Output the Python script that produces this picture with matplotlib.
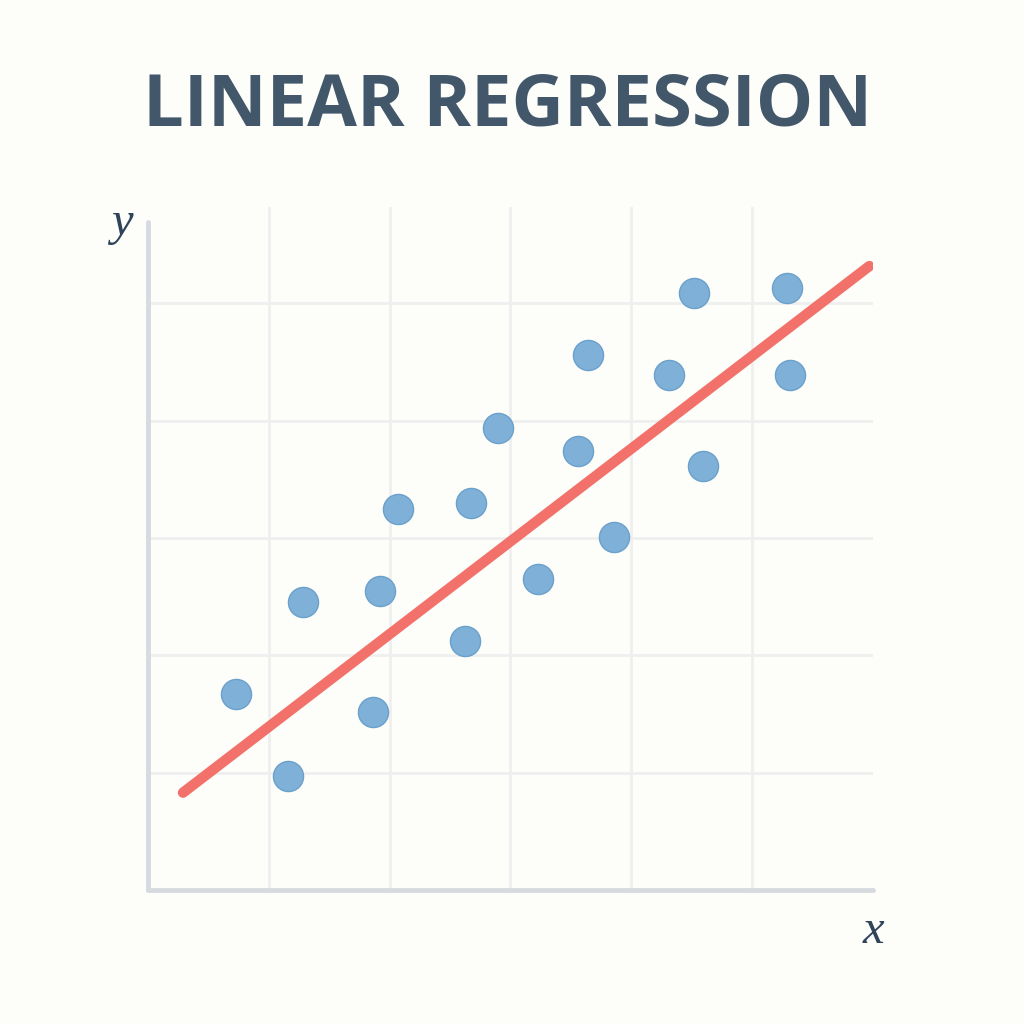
import numpy as np
import matplotlib
matplotlib.use("Agg")
import matplotlib.pyplot as plt

# Точки
x_pts = [0.73, 1.16, 1.28, 1.86, 1.92, 2.07, 2.62, 2.67, 2.90,
         3.23, 3.56, 3.64, 3.86, 4.31, 4.52, 4.59, 5.29, 5.31]
y_pts = [1.67, 0.97, 2.45, 1.52, 2.55, 3.25, 2.12, 3.30, 3.94,
         2.65, 3.74, 4.56, 3.01, 4.39, 5.09, 3.61, 5.13, 4.39]

# Линия регрессии
line_x = [0.29, 5.97]
intercept = 0.60
slope = 0.79

bg = "#fdfdfa"
fig = plt.figure(figsize=(10.24, 10.24), dpi=100, facecolor=bg)
ax = fig.add_axes([0.1445, 0.1309, 0.708, 0.667], facecolor=bg)

ax.set_xlim(0, 6)
ax.set_ylim(0, 5.82)
ax.set_xticks([1, 2, 3, 4, 5])
ax.set_yticks([1, 2, 3, 4, 5])
ax.tick_params(length=0, labelbottom=False, labelleft=False)
ax.grid(True, color="#efefef", linewidth=2)
ax.set_axisbelow(True)

for s in ["top", "right"]:
    ax.spines[s].set_visible(False)
for s in ["left", "bottom"]:
    ax.spines[s].set_color("#d6dbe0")
    ax.spines[s].set_linewidth(3.5)
    ax.spines[s].set_capstyle("round")
ax.spines["left"].set_bounds(0, 5.69)

lx = np.array(line_x)
ax.plot(lx, intercept + slope * lx, color="#f2726b", linewidth=7.5,
        solid_capstyle="round", zorder=2)
ax.scatter(x_pts, y_pts, s=470, color="#7fb1d8", edgecolors="#6aa0cc",
           linewidths=1, zorder=3)

fig.text(0.4956, 1 - 126 / 1024, "LINEAR REGRESSION", ha="center", va="baseline",
         fontsize=52, fontweight="bold", family="Open Sans", color="#43576a")
fig.text(0.119, 0.782, "y", ha="center", va="center", fontsize=35,
         style="italic", family="Liberation Serif", color="#2f4459")
fig.text(0.853, 0.091, "x", ha="center", va="center", fontsize=35,
         style="italic", family="Liberation Serif", color="#2f4459")

fig.savefig("out.png", dpi=100, facecolor=bg)
